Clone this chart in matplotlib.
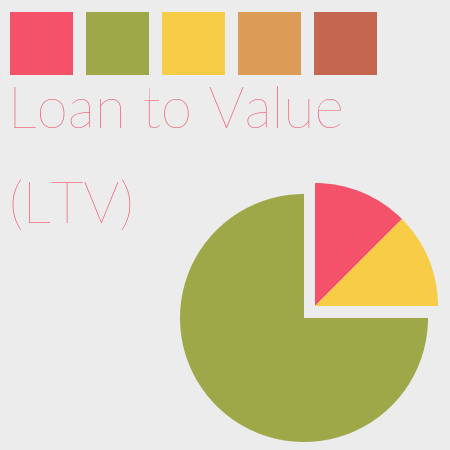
import matplotlib.pyplot as plt
from matplotlib.patches import Rectangle

palette = ['#f4526a', '#9ea849', '#f7cc47', '#dc9c57', '#c5674f']
labels = ['A', 'B', 'C']
values = [12.5, 12.5, 75]
pie_colors = ['#f4526a', '#f7cc47', '#9ea849']
title_lines = ['Loan to Value', '(LTV)']

fig = plt.figure(figsize=(4.5, 4.5), dpi=100)
fig.patch.set_facecolor('#ececec')
ax = fig.add_axes([0, 0, 1, 1])
ax.set_xlim(0, 450); ax.set_ylim(0, 450); ax.set_aspect('equal'); ax.axis('off')

for i, c in enumerate(palette):
    ax.add_patch(Rectangle((10 + i * 76, 450 - 75), 63, 63, color=c, lw=0))

ax.text(8, 322, title_lines[0], fontsize=41, family='Lato', fontweight='light', color='#f4526a', va='baseline')
ax.text(8, 227, title_lines[1], fontsize=41, family='Lato', fontweight='light', color='#f4526a', va='baseline')

w1, _ = ax.pie(values, colors=pie_colors, startangle=90, counterclock=False, radius=124,
               center=(304, 132), frame=True, wedgeprops=dict(lw=0))
w1[0].set_visible(False); w1[1].set_visible(False)
w2, _ = ax.pie(values, colors=pie_colors, startangle=90, counterclock=False, radius=123,
               center=(315, 144), frame=True, wedgeprops=dict(lw=0))
w2[2].set_visible(False)
ax.set_xlim(0, 450); ax.set_ylim(0, 450); ax.axis('off')
fig.savefig('out.png', dpi=100, facecolor=fig.get_facecolor())
